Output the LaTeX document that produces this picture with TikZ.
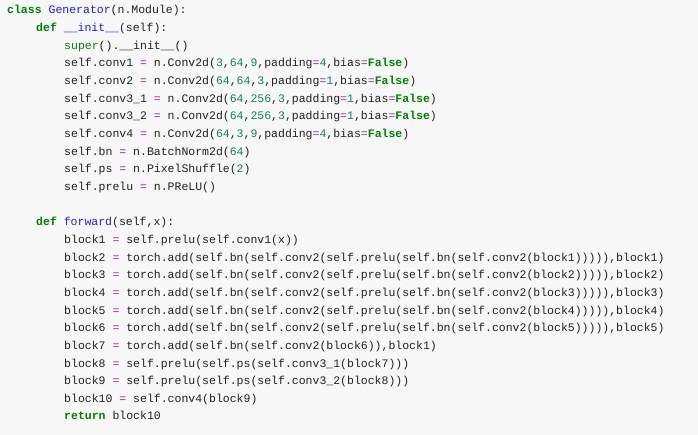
\documentclass[tikz,border=0pt]{standalone}
\usepackage{fontspec}
\setmonofont{Liberation Mono}
\definecolor{bg}{HTML}{F7F7F7}
\definecolor{kwc}{HTML}{008000}
\definecolor{numc}{HTML}{098658}
\definecolor{fnc}{HTML}{2020E0}
\definecolor{eqc}{HTML}{A626A4}
\definecolor{txc}{HTML}{212121}
\newcommand\kw[1]{\textbf{\textcolor{kwc}{#1}}}
\newcommand\nm[1]{\textcolor{numc}{#1}}
\newcommand\fn[1]{\textcolor{fnc}{#1}}
\newcommand\ceq{\textcolor{eqc}{=}}
\newcommand\Fa{\kw{False}}
\begin{document}
\begin{tikzpicture}[x=1pt,y=1pt,
  ln/.style={anchor=base west,inner sep=0pt,font=\ttfamily\fontsize{11.5}{14}\selectfont,text=txc}]
\fill[bg] (0,0) rectangle (698,-435);
\useasboundingbox (0,0) rectangle (698,-435);
\def\lh{17.65}
\node[ln] (l1) at (7,-14) {\kw{class} \fn{Generator}(n.Module):};
\node[ln] (l2) at (36,-14-\lh) {\kw{def} \fn{\_\_init\_\_}(self):};
\node[ln] (l3) at (64,-14-2*\lh) {\textcolor{kwc}{super}().\_\_init\_\_()};
\node[ln] (l4) at (64,-14-3*\lh) {self.conv1 \ceq{} n.Conv2d(\nm{3},\nm{64},\nm{9},padding\ceq\nm{4},bias\ceq\Fa)};
\node[ln] (l5) at (64,-14-4*\lh) {self.conv2 \ceq{} n.Conv2d(\nm{64},\nm{64},\nm{3},padding\ceq\nm{1},bias\ceq\Fa)};
\node[ln] (l6) at (64,-14-5*\lh) {self.conv3\_1 \ceq{} n.Conv2d(\nm{64},\nm{256},\nm{3},padding\ceq\nm{1},bias\ceq\Fa)};
\node[ln] (l7) at (64,-14-6*\lh) {self.conv3\_2 \ceq{} n.Conv2d(\nm{64},\nm{256},\nm{3},padding\ceq\nm{1},bias\ceq\Fa)};
\node[ln] (l8) at (64,-14-7*\lh) {self.conv4 \ceq{} n.Conv2d(\nm{64},\nm{3},\nm{9},padding\ceq\nm{4},bias\ceq\Fa)};
\node[ln] (l9) at (64,-14-8*\lh) {self.bn \ceq{} n.BatchNorm2d(\nm{64})};
\node[ln] (l10) at (64,-14-9*\lh) {self.ps \ceq{} n.PixelShuffle(\nm{2})};
\node[ln] (l11) at (64,-14-10*\lh) {self.prelu \ceq{} n.PReLU()};
\node[ln] (l13) at (36,-14-12*\lh) {\kw{def} \fn{forward}(self,x):};
\node[ln] (l14) at (64,-14-13*\lh) {block1 \ceq{} self.prelu(self.conv1(x))};
\node[ln] (l15) at (64,-14-14*\lh) {block2 \ceq{} torch.add(self.bn(self.conv2(self.prelu(self.bn(self.conv2(block1))))),block1)};
\node[ln] (l16) at (64,-14-15*\lh) {block3 \ceq{} torch.add(self.bn(self.conv2(self.prelu(self.bn(self.conv2(block2))))),block2)};
\node[ln] (l17) at (64,-14-16*\lh) {block4 \ceq{} torch.add(self.bn(self.conv2(self.prelu(self.bn(self.conv2(block3))))),block3)};
\node[ln] (l18) at (64,-14-17*\lh) {block5 \ceq{} torch.add(self.bn(self.conv2(self.prelu(self.bn(self.conv2(block4))))),block4)};
\node[ln] (l19) at (64,-14-18*\lh) {block6 \ceq{} torch.add(self.bn(self.conv2(self.prelu(self.bn(self.conv2(block5))))),block5)};
\node[ln] (l20) at (64,-14-19*\lh) {block7 \ceq{} torch.add(self.bn(self.conv2(block6)),block1)};
\node[ln] (l21) at (64,-14-20*\lh) {block8 \ceq{} self.prelu(self.ps(self.conv3\_1(block7)))};
\node[ln] (l22) at (64,-14-21*\lh) {block9 \ceq{} self.prelu(self.ps(self.conv3\_2(block8)))};
\node[ln] (l23) at (64,-14-22*\lh) {block10 \ceq{} self.conv4(block9)};
\node[ln] (l24) at (64,-14-23*\lh) {\kw{return} block10};
\end{tikzpicture}
\end{document}
